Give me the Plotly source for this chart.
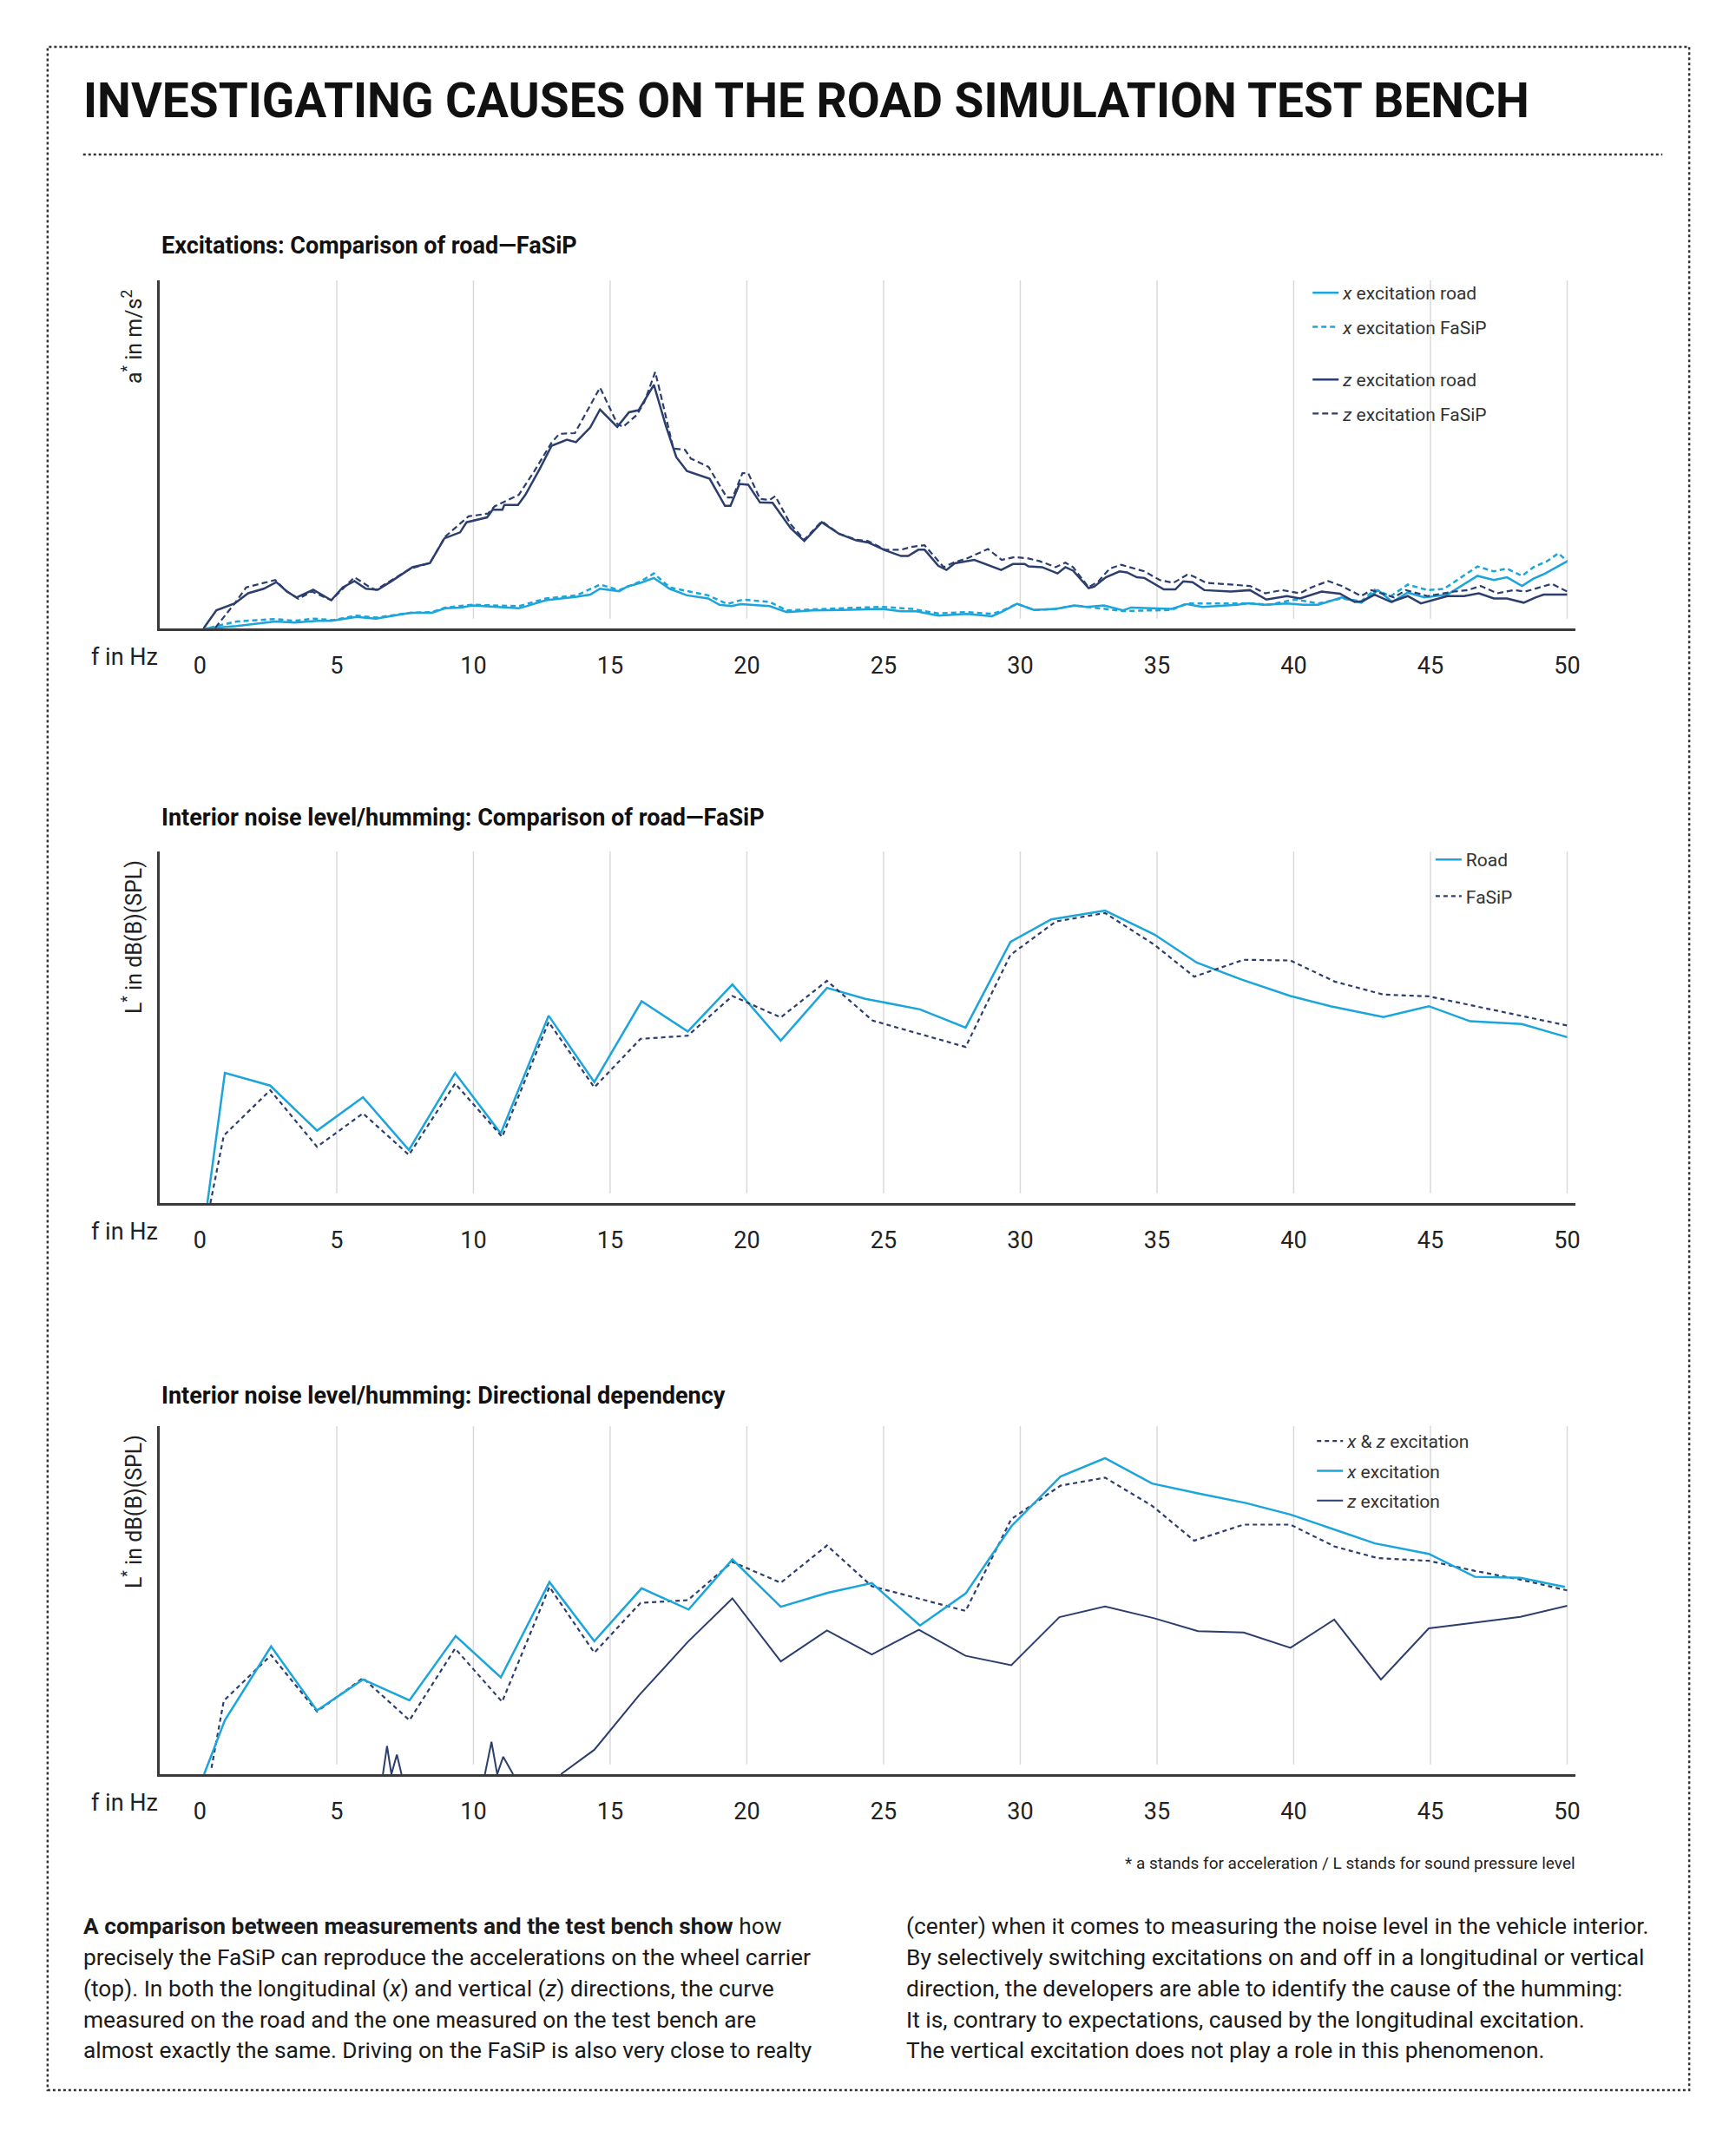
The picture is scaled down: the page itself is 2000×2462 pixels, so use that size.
import plotly.graph_objects as go

# ---------------- data ----------------
TICK_F = [0, 5, 10, 15, 20, 25, 30, 35, 40, 45, 50]
GRID_F = [5, 10, 15, 20, 25, 30, 35, 40, 45, 50]

# Chart 1: excitations (arbitrary units, 0..100 = axis height)
Z_ROAD_F = [0.13, 0.6, 1.27, 1.76, 2.33, 2.79, 3.18, 3.53, 4.14, 4.80,
            5.22, 5.65, 6.07, 6.5, 6.99, 7.77, 8.41, 8.94, 9.51, 9.75,
            10.5, 10.7, 11.06, 11.13, 11.63, 11.9, 12.43, 12.86, 13.42, 13.75,
            14.27, 14.63, 15.26, 15.69, 16.04, 16.6, 17.03, 17.42, 17.81, 18.64,
            19.2, 19.4, 19.73, 20.05, 20.48, 20.94, 21.6, 22.1, 22.74, 23.37,
            24.0, 24.43, 25.07, 25.64, 25.9, 26.27, 26.5, 27.0, 27.3, 27.6,
            28.32, 29.3, 29.73, 30.16, 30.3, 30.8, 31.36, 31.65, 31.93, 32.5,
            32.7, 33.13, 33.63, 33.9, 34.26, 34.54, 35.25, 35.67, 35.96, 36.3,
            36.73, 37.7, 38.4, 39.0, 39.75, 40.23, 41.02, 41.69, 42.23, 42.5,
            42.96, 43.56, 44.17, 44.65, 45.62, 46.23, 46.77, 47.32, 47.8, 48.41,
            48.84, 49.14, 50.0]
Z_ROAD_A = [0, 5.2, 7.2, 10.1, 11.4, 13.3, 10.6, 8.9, 11.1, 8.1,
            11.8, 13.6, 11.4, 11.1, 13.5, 17.6, 18.8, 25.9, 27.6, 30.5,
            31.9, 34.1, 34.1, 35.5, 35.5, 38.4, 45.9, 52.5, 54.2, 53.5,
            57.7, 62.9, 57.9, 62.1, 62.7, 70.0, 58.4, 49.2, 45.2, 43.0,
            35.2, 35.2, 41.5, 41.3, 36.2, 36.1, 28.8, 25.1, 30.5, 27.2,
            25.3, 24.7, 22.4, 20.8, 20.8, 22.6, 22.6, 18.0, 16.8, 18.7,
            19.7, 16.8, 18.5, 18.5, 17.8, 17.6, 15.8, 17.6, 16.6, 11.6,
            12.0, 14.7, 16.4, 16.1, 14.7, 14.5, 11.2, 11.2, 13.5, 13.3,
            11.0, 10.6, 11.0, 8.3, 9.3, 8.6, 10.6, 10.0, 7.6, 7.8,
            9.7, 7.6, 9.3, 7.2, 9.3, 9.3, 10.1, 8.6, 8.6, 7.4,
            8.9, 9.7, 9.7]

Z_FASIP_F = [0.56, 0.77, 1.27, 1.69, 2.75, 3.18, 3.6, 4.09, 4.8, 5.65,
             6.22, 6.43, 7.7, 8.41, 8.97, 9.82, 10.53, 10.78, 11.66, 12.22,
             12.86, 13.14, 13.71, 14.63, 15.26, 15.47, 15.97, 16.25, 16.65, 16.89,
             17.31, 17.74, 17.95, 18.6, 19.27, 19.48, 19.84, 20.05, 20.48, 20.83,
             21.04, 21.6, 22.1, 22.74, 23.37, 24.0, 24.43, 25.07, 25.64, 26.0,
             26.5, 27.2, 27.55, 28.04, 28.82, 29.32, 29.8, 30.3, 30.72, 31.29,
             31.65, 31.93, 32.5, 32.85, 33.27, 33.69, 34.54, 35.1, 35.6, 36.1,
             36.3, 36.8, 37.86, 38.4, 38.96, 39.57, 40.23, 40.65, 41.26, 41.75,
             42.47, 42.84, 43.67, 44.1, 44.9, 45.87, 46.35, 46.84, 47.44, 48.05,
             48.47, 49.44, 50.0]
Z_FASIP_A = [0.2, 2.2, 7.2, 11.8, 13.9, 10.6, 8.5, 10.6, 8.1, 14.7,
             11.8, 11.1, 17.2, 18.8, 26.4, 32.2, 33.0, 35.1, 38.4, 45.1,
             53.4, 55.9, 56.1, 69.2, 58.8, 57.9, 61.3, 65.0, 73.7, 65.8,
             51.7, 51.3, 48.8, 46.4, 37.6, 37.6, 44.6, 44.6, 37.2, 36.9,
             38.0, 29.9, 25.5, 30.8, 27.2, 25.5, 25.1, 22.6, 22.6, 23.4,
             23.9, 17.6, 18.9, 20.1, 22.8, 19.7, 20.5, 20.1, 19.3, 17.6,
             18.9, 17.6, 11.8, 13.5, 17.2, 18.3, 16.4, 13.9, 13.1, 15.4,
             15.1, 13.1, 12.5, 12.2, 10.1, 11.0, 10.1, 11.8, 13.6, 12.2,
             9.3, 11.0, 8.9, 11.0, 9.3, 10.6, 11.0, 12.2, 10.1, 11.0,
             10.6, 12.8, 10.6]

X_ROAD_F = [0.2, 1.34, 2.75, 3.46, 4.3, 4.8, 5.72, 6.43, 7.7, 8.48,
            8.97, 9.54, 9.96, 10.67, 11.66, 11.94, 12.65, 13.78, 14.27, 14.63,
            15.33, 15.62, 16.11, 16.6, 17.17, 17.81, 18.58, 19.0, 19.43, 19.78,
            20.83, 21.46, 22.38, 23.5, 24.93, 25.64, 26.2, 27.0, 28.04, 28.96,
            29.31, 29.88, 30.5, 31.29, 31.99, 32.42, 33.06, 33.76, 34.05, 35.53,
            36.1, 36.66, 37.93, 38.35, 38.9, 39.75, 40.35, 40.9, 41.75, 42.47,
            43.08, 43.6, 44.17, 44.78, 45.62, 46.72, 47.32, 47.8, 48.35, 48.77,
            49.2, 50.0]
X_ROAD_A = [0, 0.7, 2.0, 1.7, 2.2, 2.2, 3.3, 2.8, 4.5, 4.5,
            5.8, 6.0, 6.6, 6.2, 5.8, 6.4, 8.1, 9.1, 9.7, 11.4,
            10.7, 12.0, 13.1, 14.5, 11.4, 9.5, 8.6, 6.8, 6.4, 7.0,
            6.4, 4.7, 5.2, 5.3, 5.6, 4.9, 4.9, 3.7, 4.2, 3.5,
            4.7, 7.1, 5.3, 5.6, 6.6, 6.2, 6.6, 5.2, 6.0, 5.6,
            7.0, 6.2, 6.8, 7.2, 6.8, 7.2, 6.8, 6.8, 8.9, 7.4,
            11.0, 7.6, 10.3, 8.9, 9.7, 15.1, 13.9, 14.7, 12.2, 14.3,
            15.8, 19.3]

X_FASIP_F = [0.35, 1.34, 2.75, 3.46, 4.16, 4.87, 5.72, 6.43, 7.7, 8.48,
             8.97, 9.96, 11.66, 12.65, 13.78, 14.63, 15.33, 16.11, 16.6, 17.17,
             18.58, 19.29, 19.86, 20.83, 21.46, 24.93, 26.06, 27.0, 28.04, 28.96,
             29.31, 29.88, 30.5, 31.29, 31.99, 33.76, 35.53, 36.1, 37.1, 38.47,
             39.08, 40.05, 40.9, 41.75, 42.47, 42.96, 43.56, 44.17, 44.9, 45.5,
             46.72, 47.32, 47.8, 48.35, 48.77, 49.26, 49.68, 50.0]
X_FASIP_A = [0.2, 2.0, 2.7, 2.2, 2.8, 2.4, 3.7, 3.1, 4.5, 4.7,
             6.0, 6.8, 6.4, 8.6, 9.5, 12.6, 11.0, 13.5, 15.8, 11.8,
             9.5, 7.0, 8.3, 7.6, 5.2, 6.2, 5.6, 4.3, 4.7, 4.2,
             5.0, 7.1, 5.3, 5.6, 6.6, 5.0, 5.3, 7.2, 7.2, 7.2,
             6.8, 8.3, 7.2, 8.6, 7.8, 11.1, 9.3, 12.6, 11.0, 11.4,
             17.8, 16.4, 17.2, 15.1, 17.6, 19.3, 21.6, 19.3]

# Chart 2: interior noise, road vs FaSiP
N_ROAD_F = [0.27, 0.91, 2.57, 4.28, 5.96, 7.64, 9.33, 11.0, 12.75, 14.42,
            16.15, 17.84, 19.47, 21.24, 22.93, 24.33, 26.33, 28.0, 29.64, 31.13,
            33.1, 34.9, 36.45, 38.08, 39.88, 41.34, 43.28, 44.94, 46.45, 48.34, 50.0]
N_ROAD_L = [0, 37.0, 33.4, 20.6, 30.1, 15.1, 37.0, 19.8, 53.3, 34.4,
            57.4, 48.8, 62.2, 46.2, 61.2, 58.1, 55.1, 49.9, 74.3, 80.7,
            83.2, 76.4, 68.4, 63.6, 58.9, 56.0, 52.9, 56.0, 51.7, 50.9, 47.2]
N_FASIP_F = [0.38, 0.87, 2.57, 4.28, 5.96, 7.64, 9.33, 11.05, 12.75, 14.42,
             16.11, 17.84, 19.47, 21.24, 22.93, 24.6, 28.0, 29.64, 31.3, 33.1,
             34.9, 36.36, 38.17, 39.88, 41.5, 43.28, 44.94, 46.66, 48.37, 50.0]
N_FASIP_L = [0, 19.2, 32.1, 16.0, 25.5, 13.7, 34.0, 18.8, 51.5, 32.9,
             46.7, 47.6, 58.9, 52.8, 63.2, 51.9, 44.4, 70.6, 80.1, 82.5,
             73.5, 64.4, 69.2, 69.0, 63.0, 59.3, 58.8, 56.0, 53.3, 50.5]

# Chart 3: directional dependency
D_X_F = [0.15, 0.91, 2.6, 4.28, 5.96, 7.66, 9.35, 11.0, 12.78, 14.42,
         16.15, 17.87, 19.47, 21.24, 22.96, 24.57, 26.33, 28.0, 29.67, 31.47,
         33.1, 34.82, 36.54, 38.25, 39.88, 41.35, 42.97, 44.94, 46.63, 48.29, 49.92]
D_X_L = [0, 15.5, 36.7, 18.3, 27.2, 21.2, 39.7, 27.8, 55.2, 38.2,
         53.4, 47.3, 61.7, 48.1, 52.1, 54.9, 42.7, 51.9, 71.2, 85.5,
         90.8, 83.5, 80.6, 77.9, 74.6, 70.7, 66.3, 63.3, 56.7, 56.4, 53.8]
D_XZ_F = [0.42, 0.87, 2.6, 4.28, 5.96, 7.66, 9.33, 11.05, 12.78, 14.42,
          16.11, 17.84, 19.47, 21.24, 22.93, 24.57, 28.0, 29.67, 31.47, 33.1,
          34.82, 36.36, 38.17, 39.88, 41.5, 43.06, 44.94, 46.63, 48.29, 50.0]
D_XZ_L = [1.8, 21.1, 34.2, 18.0, 27.6, 15.5, 36.1, 20.8, 53.8, 34.9,
          49.2, 50.0, 61.0, 55.0, 65.7, 54.0, 46.9, 73.3, 82.9, 85.2,
          77.1, 67.1, 71.7, 71.7, 65.4, 62.1, 61.3, 58.4, 55.9, 52.8]
D_Z_F = [6.69, 6.84, 7.0, 7.2, 7.37, None,
         10.42, 10.66, 10.87, 11.09, 11.45, None,
         13.2, 14.42, 16.05, 17.84, 19.47, 21.24, 22.93, 24.57, 26.29, 28.0,
         29.67, 31.43, 33.1, 34.9, 36.5, 38.17, 39.88, 41.48, 43.19, 44.94,
         46.66, 48.29, 50.0]
D_Z_L = [0, 8.1, 0, 5.6, 0, None,
         0, 9.3, 0, 5.0, 0, None,
         0, 7.0, 22.6, 38.0, 50.5, 32.4, 41.3, 34.4, 41.5, 34.0,
         31.3, 45.1, 48.2, 44.8, 41.1, 40.7, 36.3, 44.4, 27.2, 41.9,
         43.6, 45.2, 48.4]

TITLE = "INVESTIGATING CAUSES ON THE ROAD SIMULATION TEST BENCH"
CHART_TITLES = ["Excitations: Comparison of road\u2014FaSiP",
                "Interior noise level/humming: Comparison of road\u2014FaSiP",
                "Interior noise level/humming: Directional dependency"]
Y_TITLES = ["a<sup>*</sup> in m/s<sup>2</sup>",
            "L<sup>*</sup> in dB(B)(SPL)",
            "L<sup>*</sup> in dB(B)(SPL)"]
FOOTNOTE = "* a stands for acceleration / L stands for sound pressure level"
BODY_LEFT = ["<b>A comparison between measurements and the test bench show</b> how",
             "precisely the FaSiP can reproduce the accelerations on the wheel carrier",
             "(top). In both the longitudinal (<i>x</i>) and vertical (<i>z</i>) directions, the curve",
             "measured on the road and the one measured on the test bench are",
             "almost exactly the same. Driving on the FaSiP is also very close to realty"]
BODY_RIGHT = ["(center) when it comes to measuring the noise level in the vehicle interior.",
              "By selectively switching excitations on and off in a longitudinal or vertical",
              "direction, the developers are able to identify the cause of the humming:",
              "It is, contrary to expectations, caused by the longitudinal excitation.",
              "The vertical excitation does not play a role in this phenomenon."]

# ---------------- styling / layout ----------------
W, H = 2000, 2462
FONT = "Roboto, 'Noto Sans', 'DejaVu Sans', sans-serif"
CYAN = "#1ba5db"
NAVY = "#2c3e6e"
TXT = "#1a1a1a"
AXC = "#3a3a3a"


def fx(p):
    return p / W


def fy(p):
    return 1 - p / H


PLOT_L, PLOT_R = 184, 1820
X0_PX, X50_PX = 231, 1810
ppu = (X50_PX - X0_PX) / 50.0
XRANGE = [(PLOT_L - X0_PX) / ppu, (PLOT_R - X0_PX) / ppu]
PANELS = [(323, 724), (981, 1386), (1643, 2044)]  # (top px, bottom px)
TITLE_Y = [283, 942, 1608]

fig = go.Figure()


def line(xs, ys, ax, name, color, dash, legend, width=2.5):
    fig.add_trace(go.Scatter(
        x=xs, y=ys, mode="lines", name=name, xaxis="x" + ax, yaxis="y" + ax,
        line=dict(color=color, width=width, dash=dash), legend=legend,
        legendgroup=name, connectgaps=False, hoverinfo="skip"))


line(X_ROAD_F, X_ROAD_A, "", "<i>x</i> excitation road", CYAN, "solid", "legend")
line(X_FASIP_F, X_FASIP_A, "", "<i>x</i> excitation FaSiP", CYAN, "6px,4px", "legend")
line(Z_ROAD_F, Z_ROAD_A, "", "<i>z</i> excitation road", NAVY, "solid", "legend2")
line(Z_FASIP_F, Z_FASIP_A, "", "<i>z</i> excitation FaSiP", NAVY, "7px,4px", "legend2", 2.2)

line(N_ROAD_F, N_ROAD_L, "2", "Road", CYAN, "solid", "legend3")
line(N_FASIP_F, N_FASIP_L, "2", "FaSiP", NAVY, "5px,4px", "legend3", 2.2)

line(D_XZ_F, D_XZ_L, "3", "<i>x</i> &amp; <i>z</i> excitation", NAVY, "5px,4px", "legend4", 2.2)
line(D_X_F, D_X_L, "3", "<i>x</i> excitation", CYAN, "solid", "legend4")
line(D_Z_F, D_Z_L, "3", "<i>z</i> excitation", NAVY, "solid", "legend4", 2.0)

layout = dict(
    width=W, height=H, autosize=False,
    margin=dict(l=0, r=0, t=0, b=0),
    paper_bgcolor="white", plot_bgcolor="white",
    font=dict(family=FONT, color=TXT),
    showlegend=True,
)

for i, (top, bot) in enumerate(PANELS):
    sfx = "" if i == 0 else str(i + 1)
    layout["xaxis" + sfx] = dict(
        domain=[fx(PLOT_L), fx(PLOT_R)], range=XRANGE, anchor="y" + sfx,
        tickvals=TICK_F, ticktext=[str(t) for t in TICK_F],
        showline=True, linecolor=AXC, linewidth=2.5, showgrid=False, zeroline=False,
        ticks="outside", ticklen=17, tickcolor="rgba(0,0,0,0)",
        tickfont=dict(size=27, color="#222", family=FONT), fixedrange=True)
    layout["yaxis" + sfx] = dict(
        domain=[fy(bot), fy(top)], range=[0, 100], anchor="x" + sfx,
        showline=True, linecolor=AXC, linewidth=2.5, showgrid=False, zeroline=False,
        showticklabels=False, ticks="", fixedrange=True)

leg_common = dict(bgcolor="rgba(0,0,0,0)", borderwidth=0, xanchor="left", yanchor="top",
                  font=dict(size=21, color="#333", family=FONT), traceorder="grouped",
                  itemwidth=30)
layout["legend"] = dict(leg_common, x=fx(1511), y=fy(317), tracegroupgap=9)
layout["legend2"] = dict(leg_common, x=fx(1511), y=fy(417), tracegroupgap=9)
layout["legend3"] = dict(leg_common, x=fx(1653), y=fy(970), tracegroupgap=12)
layout["legend4"] = dict(leg_common, x=fx(1516), y=fy(1640), tracegroupgap=4)

fig.update_layout(**layout)

# gridlines (vertical, at data positions)
for i in range(3):
    sfx = "" if i == 0 else str(i + 1)
    for g in GRID_F:
        fig.add_shape(type="line", xref="x" + sfx, yref="y" + sfx + " domain",
                      x0=g, x1=g, y0=0.028, y1=1.0,
                      line=dict(color="#d9d9d9", width=1.5), layer="below")

ann = []
# main title
ann.append(dict(text="<b>" + TITLE + "</b>", x=fx(94), y=fy(116), xanchor="left", yanchor="middle",
                font=dict(size=55, color="#111", family=FONT)))
for i, (top, bot) in enumerate(PANELS):
    ann.append(dict(text="<b>" + CHART_TITLES[i] + "</b>", x=fx(184), y=fy(TITLE_Y[i]),
                    xanchor="left", yanchor="middle", font=dict(size=27, color="#111", family=FONT)))
    ann.append(dict(text=Y_TITLES[i], x=fx(153), y=fy(top + 8), xanchor="center", yanchor="top",
                    textangle=-90, font=dict(size=25, color="#222", family=FONT)))
    ann.append(dict(text="f in Hz", x=fx(184), y=fy(bot + 33), xanchor="right", yanchor="middle",
                    font=dict(size=27, color="#222", family=FONT)))
ann.append(dict(text=FOOTNOTE, x=fx(1822), y=fy(2146), xanchor="right", yanchor="middle",
                font=dict(size=19, color="#222", family=FONT)))
BODY_Y = [2219, 2255, 2291, 2327, 2362]
for k in range(5):
    ann.append(dict(text=BODY_LEFT[k], x=fx(94), y=fy(BODY_Y[k]), xanchor="left", yanchor="middle",
                    font=dict(size=26.3, color=TXT, family=FONT)))
    ann.append(dict(text=BODY_RIGHT[k], x=fx(1045), y=fy(BODY_Y[k]), xanchor="left", yanchor="middle",
                    font=dict(size=26.3, color=TXT, family=FONT)))
for a in ann:
    a.update(xref="paper", yref="paper", showarrow=False)
    fig.add_annotation(**a)

# dotted frame and title separator
fig.add_shape(type="rect", xref="paper", yref="paper", x0=fx(55), x1=fx(1951), y0=fy(2408), y1=fy(54),
              line=dict(color="#333", width=2.5, dash="dot"), fillcolor="rgba(0,0,0,0)")
fig.add_shape(type="line", xref="paper", yref="paper", x0=fx(96), x1=fx(1920), y0=fy(178), y1=fy(178),
              line=dict(color="#333", width=2.5, dash="dot"))

fig.write_html("out.html", config={"displayModeBar": False},
               post_script="document.body.style.margin='0';document.body.style.overflow='hidden';")
